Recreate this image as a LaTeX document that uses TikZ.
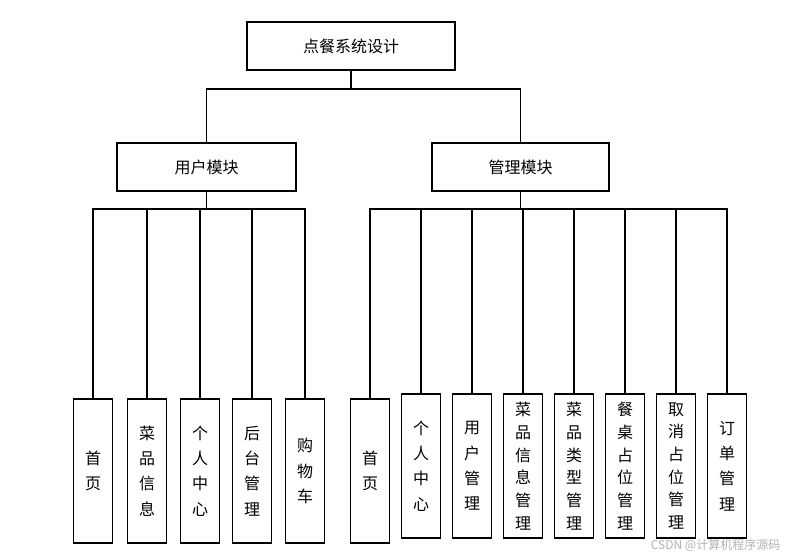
\documentclass[tikz,border=0pt]{standalone}
\usepackage{fontspec}
\newfontfamily\cjk{Noto Sans CJK SC}
\begin{document}
\begin{tikzpicture}[x=0.75pt,y=-0.75pt,
  box/.style={draw,thick,fill=white,inner sep=0pt,font=\cjk\fontsize{12}{14}\selectfont},
  vbox/.style={draw,thick,fill=white,inner sep=0pt,minimum width=29.25pt,minimum height=108pt,align=center,font=\cjk\fontsize{12}{19}\selectfont},
  tall/.style={font=\cjk\fontsize{12}{17}\selectfont},
  ln/.style={thick}]
\useasboundingbox (0,0) rectangle (799,558);
\node[box,minimum width=156pt,minimum height=36pt] (root) at (351,46) {点餐系统设计};
\node[box,minimum width=134.25pt,minimum height=36pt] (u) at (206.5,167) {用户模块};
\node[box,minimum width=132.75pt,minimum height=36pt] (m) at (520.5,167) {管理模块};
\coordinate (rb) at (351,89);
\draw[ln] (root.south) -- (rb);
\draw[ln] (u.north) |- (rb) -| (m.north);
\foreach \n/\x/\t in {u1/93/首\\页, u2/147/菜\\品\\信\\息, u3/200/个\\人\\中\\心, u4/252/后\\台\\管\\理, u5/305/购\\物\\车}{
  \node[vbox] (\n) at (\x,471) {\t};
}
\foreach \n/\x/\y/\t in {m1/370/471/首\\页, m2/421/466/个\\人\\中\\心, m3/472/466/用\\户\\管\\理, m8/727/466/订\\单\\管\\理}{
  \node[vbox] (\n) at (\x,\y) {\t};
}
\foreach \n/\x/\y/\t in {m4/523/466/菜\\品\\信\\息\\管\\理, m5/574/466/菜\\品\\类\\型\\管\\理, m6/625/466/餐\\桌\\占\\位\\管\\理, m7/676/466/取\\消\\占\\位\\管\\理}{
  \node[vbox,tall] (\n) at (\x,\y) {\t};
}
\coordinate (ub) at (206.5,209);
\coordinate (mb) at (520.5,209);
\draw[ln] (u.south) -- (ub);
\draw[ln] (m.south) -- (mb);
\foreach \n in {u1,u2,u3,u4,u5}{\draw[ln] (\n.north) |- (ub);}
\foreach \n in {m1,m2,m3,m4,m5,m6,m7,m8}{\draw[ln] (\n.north) |- (mb);}
\node[anchor=east,text=gray!60,font=\cjk\fontsize{9}{11}\selectfont] (wm) at (785,545) {CSDN @计算机程序源码};
\end{tikzpicture}
\end{document}
